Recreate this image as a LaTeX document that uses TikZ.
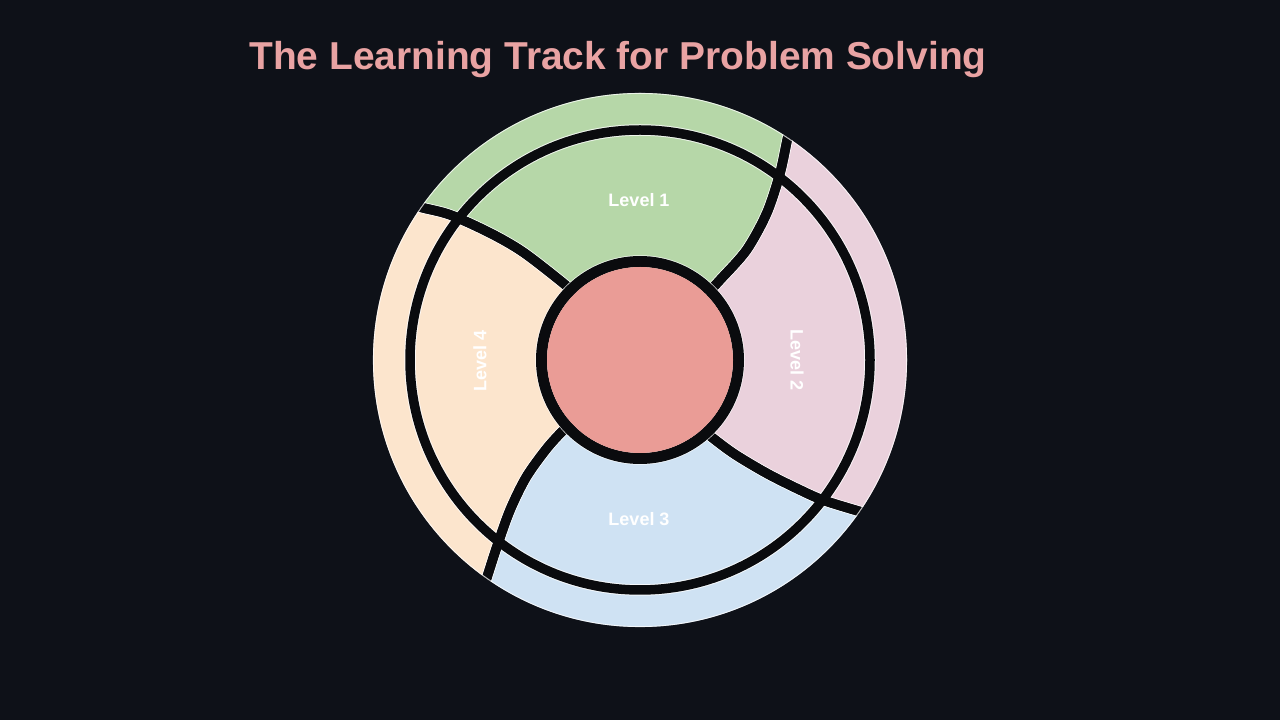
\documentclass[tikz,border=0pt]{standalone}
\usepackage{fontspec}
\newfontfamily\titlefont{Liberation Sans}
\newfontfamily\lblfont{Liberation Sans}
\definecolor{bgc}{HTML}{0E1118}
\definecolor{linec}{HTML}{0A0B0E}
\definecolor{greenc}{HTML}{B6D7A8}
\definecolor{pinkc}{HTML}{EAD1DC}
\definecolor{bluec}{HTML}{CFE2F3}
\definecolor{peachc}{HTML}{FCE5CD}
\definecolor{centerc}{HTML}{EA9C96}
\definecolor{titlec}{HTML}{E9A3A3}
\tikzset{
  edgewhite/.style={draw=white, draw opacity=0.8, line width=11.5pt},
  edgeblack/.style={draw=linec, line width=9.5pt},
  lbl/.style={font=\lblfont\bfseries\fontsize{18}{20}\selectfont, text=white, inner sep=0pt},
}
\begin{document}
\begin{tikzpicture}[x=1pt,y=1pt]
\useasboundingbox (0,0) rectangle (1280,720);
\fill[bgc] (0,0) rectangle (1280,720);
\node[font=\titlefont\bfseries\fontsize{38.9}{44}\selectfont, text=titlec, anchor=base, inner sep=0pt] (title) at (618,650) {The Learning Track for Problem Solving};
\begin{scope}[shift={(640,360)}]
  \begin{scope}
    \clip (0,0) circle[radius=267pt];
    % Level 1 sector (between C2 and C1)
    \fill[greenc] (0,0) -- plot[smooth] coordinates {(44.4:85) (45:113) (45.9:153) (49.2:194) (53.1:233) (56.5:268) (58:290)}
      arc[start angle=58, end angle=146.5, radius=290pt]
      -- plot[smooth] coordinates {(146.5:290) (145.2:268) (142.6:239) (139.7:196) (137.3:159) (135:109) (134.2:85)} -- cycle;
    % Level 2 sector (between C3 and C2)
    \fill[pinkc] (0,0) -- plot[smooth] coordinates {(-48.8:85) (-47.7:99) (-45:132) (-41.8:170) (-39.1:206) (-37.4:231) (-34.5:268) (-33:290)}
      arc[start angle=-33, end angle=58, radius=290pt]
      -- plot[smooth] coordinates {(58:290) (56.5:268) (53.1:233) (49.2:194) (45.9:153) (45:113) (44.4:85)} -- cycle;
    % Level 3 sector (between C4 and C3)
    \fill[bluec] (0,0) -- plot[smooth] coordinates {(222:85) (222.3:99) (223.4:127) (225.8:163) (229.1:198.5) (232.5:235) (235:268) (236.3:290)}
      arc[start angle=236.3, end angle=327, radius=290pt]
      -- plot[smooth] coordinates {(327:290) (325.5:268) (322.6:231) (320.9:206) (318.2:170) (315:132) (312.3:99) (311.2:85)} -- cycle;
    % Level 4 sector (between C1 and C4)
    \fill[peachc] (0,0) -- plot[smooth] coordinates {(134.2:85) (135:109) (137.3:159) (139.7:196) (142.6:239) (145.2:268) (146.5:290)}
      arc[start angle=146.5, end angle=236.3, radius=290pt]
      -- plot[smooth] coordinates {(236.3:290) (235:268) (232.5:235) (229.1:198.5) (225.8:163) (223.4:127) (222.3:99) (222:85)} -- cycle;
    % dividing curves and ring: white edge first, then black
    \foreach \s in {edgewhite, edgeblack} {
      \draw[\s] plot[smooth] coordinates {(134.2:85) (135:109) (137.3:159) (139.7:196) (142.6:239) (145.2:268) (146.5:290)};
      \draw[\s] plot[smooth] coordinates {(44.4:85) (45:113) (45.9:153) (49.2:194) (53.1:233) (56.5:268) (58:290)};
      \draw[\s] plot[smooth] coordinates {(-48.8:85) (-47.7:99) (-45:132) (-41.8:170) (-39.1:206) (-37.4:231) (-34.5:268) (-33:290)};
      \draw[\s] plot[smooth] coordinates {(222:85) (222.3:99) (223.4:127) (225.8:163) (229.1:198.5) (232.5:235) (235:268) (236.3:290)};
      \draw[\s] (0,0) circle[radius=230pt];
    }
    \draw[edgeblack] plot[smooth] coordinates {(134.2:85) (135:109) (137.3:159) (139.7:196) (142.6:239) (145.2:268) (146.5:290)};
    \draw[edgeblack] plot[smooth] coordinates {(44.4:85) (45:113) (45.9:153) (49.2:194) (53.1:233) (56.5:268) (58:290)};
    \draw[edgeblack] plot[smooth] coordinates {(-48.8:85) (-47.7:99) (-45:132) (-41.8:170) (-39.1:206) (-37.4:231) (-34.5:268) (-33:290)};
    \draw[edgeblack] plot[smooth] coordinates {(222:85) (222.3:99) (223.4:127) (225.8:163) (229.1:198.5) (232.5:235) (235:268) (236.3:290)};
  \end{scope}
  \draw[white, draw opacity=0.75, line width=0.9pt] (0,0) circle[radius=266.6pt];
  % center circle
  \draw[white, draw opacity=0.8, line width=12.5pt] (0,0) circle[radius=98.5pt];
  \draw[linec, line width=11pt] (0,0) circle[radius=98.5pt];
  \fill[centerc] (0,0) circle[radius=93pt];
  \node[lbl] (l1) at (-1,160) {Level 1};
  \node[lbl, rotate=-90] (l2) at (157,0) {Level 2};
  \node[lbl] (l3) at (-1,-159) {Level 3};
  \node[lbl, rotate=90] (l4) at (-160,-1) {Level 4};
\end{scope}
\end{tikzpicture}
\end{document}
